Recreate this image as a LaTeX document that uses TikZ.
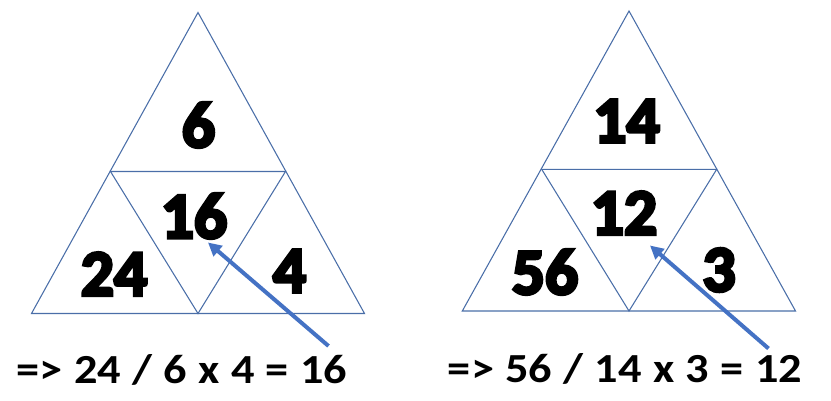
\documentclass[tikz,border=0pt]{standalone}
\usepackage{fontspec}
\setmainfont{Carlito}
\newfontfamily\heavy{Carlito}[UprightFont={* Bold}, UprightFeatures={FakeBold=5}]
\usetikzlibrary{arrows.meta}
\definecolor{edge}{HTML}{4A6EA8}
\definecolor{arrowblue}{HTML}{4472C4}
\newcommand\eqspacing{\spaceskip=7.6pt\relax\xspaceskip=7.6pt\relax}
\tikzset{
  tri/.style={draw=edge, line width=0.8pt},
  num/.style={font=\heavy\fontsize{49}{49}\selectfont, inner sep=0pt, anchor=center},
  eqn/.style={font=\bfseries\fontsize{31}{31}\selectfont, inner sep=0pt, anchor=base, xscale=1.12},
  pointer/.style={draw=arrowblue, line width=3pt, -{Triangle[length=10pt,width=10pt]}, shorten >=0pt}
}
\begin{document}
\begin{tikzpicture}[x=0.75pt,y=-0.75pt]
\useasboundingbox (0,0) rectangle (831,400);
% left triangle
\coordinate (LA) at (198,12.5);
\coordinate (LB) at (31.5,313.5);
\coordinate (LC) at (364.5,313.5);
\coordinate (LL) at (110.5,171.5);
\coordinate (LR) at (285.5,171.5);
\coordinate (LM) at (198,313.5);
\draw[tri] (LA) -- (LB) -- (LC) -- cycle;
\draw[tri] (LL) -- (LR) -- (LM) -- cycle;
\node[num] (l6) at (198.5,125) {6};
\node[num] (l16) at (194,216) {16};
\node[num] (l24) at (114,274) {24};
\node[num] (l4) at (289.5,271) {4};
\coordinate (ls) at (328.5,346);
\coordinate (lt) at (208,242.5);
\draw[pointer] (ls) -- (lt);
\node[eqn] (leq) at (182,383) {\eqspacing =>\ 24 / 6 x 4 = 16};
% right triangle
\coordinate (RA) at (629,11);
\coordinate (RB) at (462.3,311);
\coordinate (RC) at (795.5,311);
\coordinate (RL) at (541.7,169.3);
\coordinate (RR) at (716.7,169.3);
\coordinate (RM) at (629,311);
\draw[tri] (RA) -- (RB) -- (RC) -- cycle;
\draw[tri] (RL) -- (RR) -- (RM) -- cycle;
\node[num] (r14) at (626.5,121) {14};
\node[num] (r12) at (624,213) {12};
\node[num] (r56) at (545,272) {56};
\node[num] (r3) at (719,270) {3};
\coordinate (rs) at (768.5,348.5);
\coordinate (rt) at (650,245.5);
\draw[pointer] (rs) -- (rt);
\node[eqn] (req) at (625,382.5) {\eqspacing =>\ 56 / 14 x 3 = 12};
\end{tikzpicture}
\end{document}
